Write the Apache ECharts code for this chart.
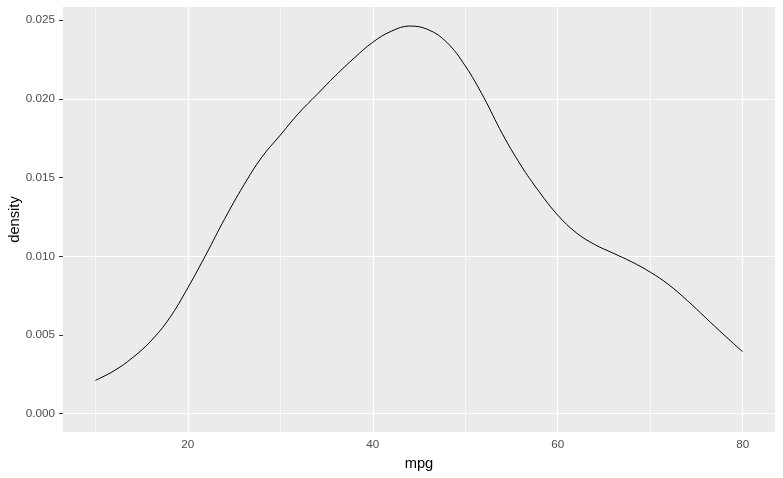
<!DOCTYPE html>
<html>
<head>
<meta charset="utf-8">
<script src="https://cdn.jsdelivr.net/npm/echarts@6/dist/echarts.min.js"></script>
<style>
  html, body { margin: 0; padding: 0; background: #fff; }
  #chart { width: 783px; height: 478px; }
</style>
</head>
<body>
<div id="chart"></div>
<script>
// x values (mpg) and estimated density
var mpg = [10, 12, 14, 16, 18, 20, 22, 24, 26, 28, 30, 32, 34, 36, 38, 40, 42, 44, 46, 48,
  50, 52, 54, 56, 58, 60, 62, 64, 66, 68, 70, 72, 74, 76, 78, 80];
var density = [0.00212, 0.00272, 0.00355, 0.00462, 0.00606, 0.00800, 0.01015, 0.0124, 0.01447, 0.0163,
  0.0177, 0.0191, 0.0203, 0.0215, 0.0226, 0.0236, 0.0243, 0.02463, 0.0244, 0.0236,
  0.0221, 0.0201, 0.0178, 0.0158, 0.0141, 0.01262, 0.0115, 0.01075, 0.0102, 0.00965,
  0.0090, 0.0082, 0.0072, 0.0061, 0.0050, 0.00394];

var xTicks = [20, 40, 60, 80];
var xMinor = [10, 30, 50, 70];
var yTicks = [0, 0.005, 0.01, 0.015, 0.02, 0.025];
var yMinor = [0.0025, 0.0075, 0.0125, 0.0175, 0.0225];

var chart = echarts.init(document.getElementById('chart'));

// grid lines (ggplot style, white on grey)
var gridLines = [];
xTicks.forEach(function (v) { gridLines.push({ xAxis: v, lineStyle: { width: 1.2 } }) });
xMinor.forEach(function (v) { gridLines.push({ xAxis: v, lineStyle: { width: 0.6 } }) });
yTicks.forEach(function (v) { gridLines.push({ yAxis: v, lineStyle: { width: 1.2 } }) });
yMinor.forEach(function (v) { gridLines.push({ yAxis: v, lineStyle: { width: 0.6 } }) });

var points = mpg.map(function (x, i) { return [x, density[i]] });

var labelStyle = { color: '#4D4D4D', fontSize: 11.7, fontFamily: 'Liberation Sans, Arial, sans-serif' };

var option = {
  animation: false,
  grid: {
    left: 63, top: 7, right: 8, bottom: 46,
    containLabel: false,
    outerBoundsMode: 'none',
    show: true, backgroundColor: '#EBEBEB', borderWidth: 0
  },
  xAxis: {
    type: 'value',
    min: 6.5, max: 83.5,
    name: 'mpg',
    nameLocation: 'middle',
    nameGap: 24,
    nameMoveOverlap: false,
    nameTextStyle: { color: '#000', fontSize: 14.7, fontFamily: 'Liberation Sans, Arial, sans-serif' },
    axisLine: { show: false },
    axisTick: { show: true, length: 4, lineStyle: { color: '#333', width: 1 }, customValues: xTicks },
    axisLabel: Object.assign({ margin: 7, customValues: xTicks }, labelStyle),
    splitLine: { show: false }
  },
  yAxis: {
    type: 'value',
    min: -0.00116, max: 0.02584,
    name: 'density',
    nameLocation: 'middle',
    nameGap: 41,
    nameMoveOverlap: false,
    nameTextStyle: { color: '#000', fontSize: 14.7, fontFamily: 'Liberation Sans, Arial, sans-serif' },
    axisLine: { show: false },
    axisTick: { show: true, length: 4, lineStyle: { color: '#333', width: 1 }, customValues: yTicks },
    axisLabel: Object.assign({
      margin: 8, customValues: yTicks,
      formatter: function (v) { return v.toFixed(3) }
    }, labelStyle),
    splitLine: { show: false }
  },
  series: [{
    // carries the background grid only
    type: 'line',
    data: points,
    z: 1,
    showSymbol: false,
    lineStyle: { opacity: 0 },
    silent: true,
    markLine: {
      z: 1,
      silent: true,
      symbol: 'none',
      label: { show: false },
      lineStyle: { color: '#fff', type: 'solid' },
      data: gridLines
    }
  }, {
    name: 'density',
    type: 'line',
    data: points,
    z: 3,
    smooth: 0.4,
    showSymbol: false,
    lineStyle: { color: '#000', width: 1 }
  }]
};
chart.setOption(option);
</script>
</body>
</html>
